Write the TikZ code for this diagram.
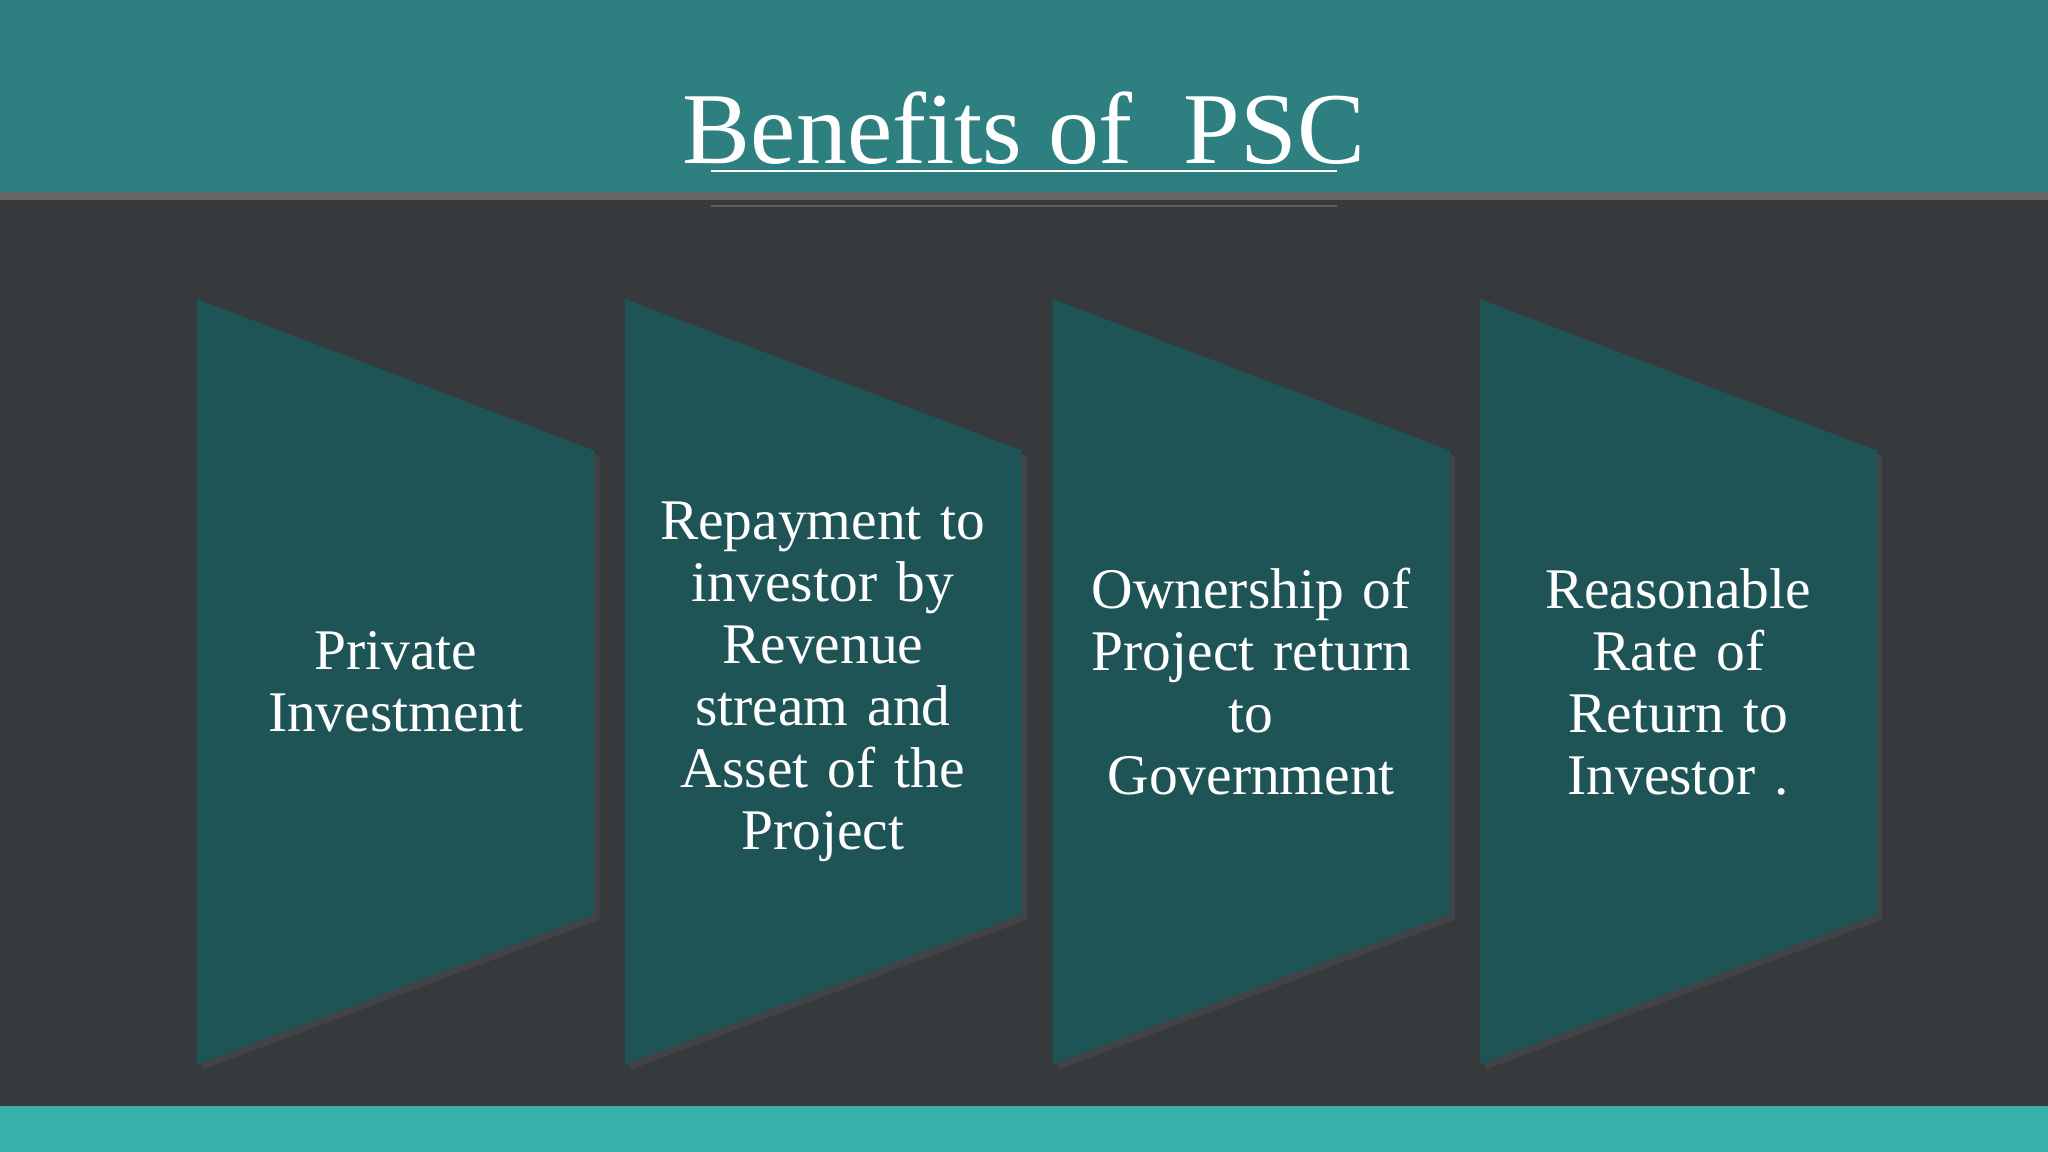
\documentclass[tikz,border=0pt]{standalone}
\usepackage{fontspec}
\setmainfont{Liberation Serif}
\definecolor{bg}{HTML}{363A3C}
\definecolor{head}{HTML}{2E7F80}
\definecolor{foot}{HTML}{38B0AC}
\definecolor{panel}{HTML}{1F5457}
\begin{document}
\begin{tikzpicture}[x=1pt,y=-1pt,
  paneltext/.style={text=white,font=\fontsize{44}{47.5}\selectfont,align=center,text width=290pt},
  panelshape/.style={fill=panel,draw=black!60,line width=0.8pt}]
\useasboundingbox (0,0) rectangle (1568,882);
\fill[bg] (0,0) rectangle (1568,882);
\fill[black!60] (0,147) rectangle (1568,153);
\fill[head] (0,0) rectangle (1568,147);
\fill[foot] (0,847) rectangle (1568,882);
\node[text=white,font=\fontsize{78}{80}\selectfont,anchor=base] (title) at (784,125) {Benefits of\ \ PSC};
\draw[white,line width=2pt] (544,131) -- (1024,131);
\draw[white!40!bg,line width=1.5pt,opacity=0.5] (544,158) -- (1024,158);
\foreach \i/\x in {1/151,2/478.5,3/806,4/1133}{
  \fill[black!70,opacity=0.5] (\x+4,233) -- (\x+308,349) -- (\x+308,704) -- (\x+4,819) -- cycle;
  \fill[panel] (\x,229) -- (\x+304,345) -- (\x+304,700) -- (\x,815) -- cycle;
  \coordinate (c\i) at (\x+152,522);
}
\node[paneltext] (t1) at (303,522) {Private\\Investment};
\node[paneltext] (t2) at (630,522) {Repayment to\\investor by\\Revenue\\stream and\\Asset of the\\Project};
\node[paneltext] (t3) at (958,522) {Ownership of\\Project return\\to\\Government};
\node[paneltext] (t4) at (1285,522) {Reasonable\\Rate of\\Return to\\Investor .};
\end{tikzpicture}
\end{document}
